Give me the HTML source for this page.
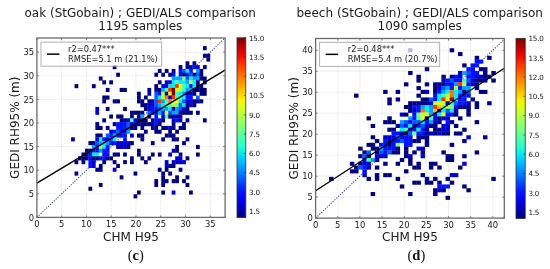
<!DOCTYPE html>
<html><head><meta charset="utf-8"><style>
html,body{margin:0;padding:0;background:#fff;}
svg{display:block;}
text{font-family:'DejaVu Sans', 'Liberation Sans', sans-serif;fill:#1a1a1a;}
</style></head><body>
<svg width="550" height="269" viewBox="0 0 550 269">
<rect width="550" height="269" fill="#fff"/>
<line x1="61.66" y1="38.0" x2="61.66" y2="217.4" stroke="#c2c2c2" stroke-width="0.6" stroke-dasharray="0.8 1.2"/>
<line x1="86.43" y1="38.0" x2="86.43" y2="217.4" stroke="#c2c2c2" stroke-width="0.6" stroke-dasharray="0.8 1.2"/>
<line x1="111.19" y1="38.0" x2="111.19" y2="217.4" stroke="#c2c2c2" stroke-width="0.6" stroke-dasharray="0.8 1.2"/>
<line x1="135.95" y1="38.0" x2="135.95" y2="217.4" stroke="#c2c2c2" stroke-width="0.6" stroke-dasharray="0.8 1.2"/>
<line x1="160.72" y1="38.0" x2="160.72" y2="217.4" stroke="#c2c2c2" stroke-width="0.6" stroke-dasharray="0.8 1.2"/>
<line x1="185.48" y1="38.0" x2="185.48" y2="217.4" stroke="#c2c2c2" stroke-width="0.6" stroke-dasharray="0.8 1.2"/>
<line x1="210.24" y1="38.0" x2="210.24" y2="217.4" stroke="#c2c2c2" stroke-width="0.6" stroke-dasharray="0.8 1.2"/>
<line x1="36.9" y1="193.79" x2="225.1" y2="193.79" stroke="#c2c2c2" stroke-width="0.6" stroke-dasharray="0.8 1.2"/>
<line x1="36.9" y1="170.19" x2="225.1" y2="170.19" stroke="#c2c2c2" stroke-width="0.6" stroke-dasharray="0.8 1.2"/>
<line x1="36.9" y1="146.58" x2="225.1" y2="146.58" stroke="#c2c2c2" stroke-width="0.6" stroke-dasharray="0.8 1.2"/>
<line x1="36.9" y1="122.98" x2="225.1" y2="122.98" stroke="#c2c2c2" stroke-width="0.6" stroke-dasharray="0.8 1.2"/>
<line x1="36.9" y1="99.37" x2="225.1" y2="99.37" stroke="#c2c2c2" stroke-width="0.6" stroke-dasharray="0.8 1.2"/>
<line x1="36.9" y1="75.77" x2="225.1" y2="75.77" stroke="#c2c2c2" stroke-width="0.6" stroke-dasharray="0.8 1.2"/>
<line x1="36.9" y1="52.16" x2="225.1" y2="52.16" stroke="#c2c2c2" stroke-width="0.6" stroke-dasharray="0.8 1.2"/>
<line x1="36.9" y1="217.4" x2="225.10" y2="38.00" stroke="#4848a8" stroke-width="1.1" stroke-dasharray="1.2 1.4"/>
<g>
<rect x="202.93" y="46.10" width="3.77" height="4.10" fill="#000080"/>
<rect x="202.93" y="53.70" width="3.77" height="4.10" fill="#000080"/>
<rect x="206.40" y="53.70" width="3.77" height="4.10" fill="#000080"/>
<rect x="206.40" y="57.50" width="3.77" height="4.10" fill="#000080"/>
<rect x="185.58" y="61.30" width="3.77" height="4.10" fill="#000080"/>
<rect x="192.52" y="61.30" width="3.77" height="4.10" fill="#000080"/>
<rect x="112.71" y="65.10" width="3.77" height="4.10" fill="#000080"/>
<rect x="178.64" y="65.10" width="3.77" height="4.10" fill="#000080"/>
<rect x="185.58" y="65.10" width="3.77" height="4.10" fill="#000080"/>
<rect x="189.05" y="65.10" width="3.77" height="4.10" fill="#0000d2"/>
<rect x="192.52" y="65.10" width="3.77" height="4.10" fill="#0012ff"/>
<rect x="195.99" y="65.10" width="3.77" height="4.10" fill="#0000d2"/>
<rect x="202.93" y="65.10" width="3.77" height="4.10" fill="#000080"/>
<rect x="157.82" y="68.90" width="3.77" height="4.10" fill="#000080"/>
<rect x="164.76" y="68.90" width="3.77" height="4.10" fill="#000080"/>
<rect x="171.70" y="68.90" width="3.77" height="4.10" fill="#000080"/>
<rect x="178.64" y="68.90" width="3.77" height="4.10" fill="#0012ff"/>
<rect x="182.11" y="68.90" width="3.77" height="4.10" fill="#005bff"/>
<rect x="185.58" y="68.90" width="3.77" height="4.10" fill="#06edf1"/>
<rect x="189.05" y="68.90" width="3.77" height="4.10" fill="#0012ff"/>
<rect x="195.99" y="68.90" width="3.77" height="4.10" fill="#00a4ff"/>
<rect x="199.46" y="68.90" width="3.77" height="4.10" fill="#000080"/>
<rect x="116.18" y="72.70" width="3.77" height="4.10" fill="#000080"/>
<rect x="154.35" y="72.70" width="3.77" height="4.10" fill="#000080"/>
<rect x="161.29" y="72.70" width="3.77" height="4.10" fill="#000080"/>
<rect x="168.23" y="72.70" width="3.77" height="4.10" fill="#000080"/>
<rect x="171.70" y="72.70" width="3.77" height="4.10" fill="#0012ff"/>
<rect x="178.64" y="72.70" width="3.77" height="4.10" fill="#0012ff"/>
<rect x="182.11" y="72.70" width="3.77" height="4.10" fill="#000080"/>
<rect x="185.58" y="72.70" width="3.77" height="4.10" fill="#0012ff"/>
<rect x="189.05" y="72.70" width="3.77" height="4.10" fill="#005bff"/>
<rect x="192.52" y="72.70" width="3.77" height="4.10" fill="#000080"/>
<rect x="195.99" y="72.70" width="3.77" height="4.10" fill="#005bff"/>
<rect x="199.46" y="72.70" width="3.77" height="4.10" fill="#000080"/>
<rect x="98.83" y="76.50" width="3.77" height="4.10" fill="#000080"/>
<rect x="171.70" y="76.50" width="3.77" height="4.10" fill="#00a4ff"/>
<rect x="175.17" y="76.50" width="3.77" height="4.10" fill="#00a4ff"/>
<rect x="178.64" y="76.50" width="3.77" height="4.10" fill="#00a4ff"/>
<rect x="182.11" y="76.50" width="3.77" height="4.10" fill="#7bff7b"/>
<rect x="185.58" y="76.50" width="3.77" height="4.10" fill="#005bff"/>
<rect x="189.05" y="76.50" width="3.77" height="4.10" fill="#06edf1"/>
<rect x="192.52" y="76.50" width="3.77" height="4.10" fill="#00a4ff"/>
<rect x="195.99" y="76.50" width="3.77" height="4.10" fill="#00a4ff"/>
<rect x="199.46" y="76.50" width="3.77" height="4.10" fill="#000080"/>
<rect x="202.93" y="76.50" width="3.77" height="4.10" fill="#000080"/>
<rect x="102.30" y="80.30" width="3.77" height="4.10" fill="#000080"/>
<rect x="109.24" y="80.30" width="3.77" height="4.10" fill="#000080"/>
<rect x="157.82" y="80.30" width="3.77" height="4.10" fill="#000080"/>
<rect x="164.76" y="80.30" width="3.77" height="4.10" fill="#0000d2"/>
<rect x="168.23" y="80.30" width="3.77" height="4.10" fill="#0000d2"/>
<rect x="171.70" y="80.30" width="3.77" height="4.10" fill="#06edf1"/>
<rect x="175.17" y="80.30" width="3.77" height="4.10" fill="#41ffb6"/>
<rect x="178.64" y="80.30" width="3.77" height="4.10" fill="#06edf1"/>
<rect x="182.11" y="80.30" width="3.77" height="4.10" fill="#06edf1"/>
<rect x="185.58" y="80.30" width="3.77" height="4.10" fill="#00a4ff"/>
<rect x="189.05" y="80.30" width="3.77" height="4.10" fill="#b6ff41"/>
<rect x="192.52" y="80.30" width="3.77" height="4.10" fill="#06edf1"/>
<rect x="195.99" y="80.30" width="3.77" height="4.10" fill="#000080"/>
<rect x="202.93" y="80.30" width="3.77" height="4.10" fill="#000080"/>
<rect x="74.54" y="84.10" width="3.77" height="4.10" fill="#000080"/>
<rect x="91.89" y="84.10" width="3.77" height="4.10" fill="#000080"/>
<rect x="154.35" y="84.10" width="3.77" height="4.10" fill="#000080"/>
<rect x="161.29" y="84.10" width="3.77" height="4.10" fill="#0000d2"/>
<rect x="164.76" y="84.10" width="3.77" height="4.10" fill="#0000d2"/>
<rect x="168.23" y="84.10" width="3.77" height="4.10" fill="#06edf1"/>
<rect x="171.70" y="84.10" width="3.77" height="4.10" fill="#06edf1"/>
<rect x="175.17" y="84.10" width="3.77" height="4.10" fill="#ff3200"/>
<rect x="178.64" y="84.10" width="3.77" height="4.10" fill="#f1fc06"/>
<rect x="182.11" y="84.10" width="3.77" height="4.10" fill="#41ffb6"/>
<rect x="185.58" y="84.10" width="3.77" height="4.10" fill="#06edf1"/>
<rect x="189.05" y="84.10" width="3.77" height="4.10" fill="#0012ff"/>
<rect x="192.52" y="84.10" width="3.77" height="4.10" fill="#06edf1"/>
<rect x="195.99" y="84.10" width="3.77" height="4.10" fill="#000080"/>
<rect x="199.46" y="84.10" width="3.77" height="4.10" fill="#000080"/>
<rect x="105.77" y="87.90" width="3.77" height="4.10" fill="#000080"/>
<rect x="119.65" y="87.90" width="3.77" height="4.10" fill="#000080"/>
<rect x="123.12" y="87.90" width="3.77" height="4.10" fill="#000080"/>
<rect x="147.41" y="87.90" width="3.77" height="4.10" fill="#000080"/>
<rect x="154.35" y="87.90" width="3.77" height="4.10" fill="#000080"/>
<rect x="157.82" y="87.90" width="3.77" height="4.10" fill="#000080"/>
<rect x="161.29" y="87.90" width="3.77" height="4.10" fill="#00a4ff"/>
<rect x="164.76" y="87.90" width="3.77" height="4.10" fill="#41ffb6"/>
<rect x="168.23" y="87.90" width="3.77" height="4.10" fill="#ff3200"/>
<rect x="171.70" y="87.90" width="3.77" height="4.10" fill="#800000"/>
<rect x="175.17" y="87.90" width="3.77" height="4.10" fill="#f1fc06"/>
<rect x="178.64" y="87.90" width="3.77" height="4.10" fill="#b6ff41"/>
<rect x="182.11" y="87.90" width="3.77" height="4.10" fill="#41ffb6"/>
<rect x="185.58" y="87.90" width="3.77" height="4.10" fill="#00a4ff"/>
<rect x="189.05" y="87.90" width="3.77" height="4.10" fill="#00a4ff"/>
<rect x="192.52" y="87.90" width="3.77" height="4.10" fill="#000080"/>
<rect x="195.99" y="87.90" width="3.77" height="4.10" fill="#000080"/>
<rect x="199.46" y="87.90" width="3.77" height="4.10" fill="#000080"/>
<rect x="202.93" y="87.90" width="3.77" height="4.10" fill="#000080"/>
<rect x="137.00" y="91.70" width="3.77" height="4.10" fill="#000080"/>
<rect x="147.41" y="91.70" width="3.77" height="4.10" fill="#0000d2"/>
<rect x="154.35" y="91.70" width="3.77" height="4.10" fill="#005bff"/>
<rect x="157.82" y="91.70" width="3.77" height="4.10" fill="#0012ff"/>
<rect x="161.29" y="91.70" width="3.77" height="4.10" fill="#b6ff41"/>
<rect x="164.76" y="91.70" width="3.77" height="4.10" fill="#0000d2"/>
<rect x="168.23" y="91.70" width="3.77" height="4.10" fill="#f1fc06"/>
<rect x="171.70" y="91.70" width="3.77" height="4.10" fill="#800000"/>
<rect x="175.17" y="91.70" width="3.77" height="4.10" fill="#41ffb6"/>
<rect x="178.64" y="91.70" width="3.77" height="4.10" fill="#06edf1"/>
<rect x="182.11" y="91.70" width="3.77" height="4.10" fill="#00a4ff"/>
<rect x="185.58" y="91.70" width="3.77" height="4.10" fill="#0000d2"/>
<rect x="189.05" y="91.70" width="3.77" height="4.10" fill="#0000d2"/>
<rect x="192.52" y="91.70" width="3.77" height="4.10" fill="#000080"/>
<rect x="199.46" y="91.70" width="3.77" height="4.10" fill="#000080"/>
<rect x="202.93" y="91.70" width="3.77" height="4.10" fill="#000080"/>
<rect x="102.30" y="95.50" width="3.77" height="4.10" fill="#000080"/>
<rect x="105.77" y="95.50" width="3.77" height="4.10" fill="#000080"/>
<rect x="137.00" y="95.50" width="3.77" height="4.10" fill="#000080"/>
<rect x="143.94" y="95.50" width="3.77" height="4.10" fill="#000080"/>
<rect x="154.35" y="95.50" width="3.77" height="4.10" fill="#005bff"/>
<rect x="157.82" y="95.50" width="3.77" height="4.10" fill="#06edf1"/>
<rect x="161.29" y="95.50" width="3.77" height="4.10" fill="#b6ff41"/>
<rect x="164.76" y="95.50" width="3.77" height="4.10" fill="#ff7500"/>
<rect x="168.23" y="95.50" width="3.77" height="4.10" fill="#0000d2"/>
<rect x="171.70" y="95.50" width="3.77" height="4.10" fill="#ff3200"/>
<rect x="175.17" y="95.50" width="3.77" height="4.10" fill="#41ffb6"/>
<rect x="178.64" y="95.50" width="3.77" height="4.10" fill="#41ffb6"/>
<rect x="182.11" y="95.50" width="3.77" height="4.10" fill="#06edf1"/>
<rect x="185.58" y="95.50" width="3.77" height="4.10" fill="#0012ff"/>
<rect x="189.05" y="95.50" width="3.77" height="4.10" fill="#0012ff"/>
<rect x="195.99" y="95.50" width="3.77" height="4.10" fill="#005bff"/>
<rect x="102.30" y="99.30" width="3.77" height="4.10" fill="#000080"/>
<rect x="112.71" y="99.30" width="3.77" height="4.10" fill="#000080"/>
<rect x="116.18" y="99.30" width="3.77" height="4.10" fill="#000080"/>
<rect x="137.00" y="99.30" width="3.77" height="4.10" fill="#000080"/>
<rect x="140.47" y="99.30" width="3.77" height="4.10" fill="#000080"/>
<rect x="147.41" y="99.30" width="3.77" height="4.10" fill="#000080"/>
<rect x="150.88" y="99.30" width="3.77" height="4.10" fill="#0000d2"/>
<rect x="154.35" y="99.30" width="3.77" height="4.10" fill="#005bff"/>
<rect x="157.82" y="99.30" width="3.77" height="4.10" fill="#ff3200"/>
<rect x="161.29" y="99.30" width="3.77" height="4.10" fill="#00a4ff"/>
<rect x="164.76" y="99.30" width="3.77" height="4.10" fill="#41ffb6"/>
<rect x="168.23" y="99.30" width="3.77" height="4.10" fill="#ff7500"/>
<rect x="171.70" y="99.30" width="3.77" height="4.10" fill="#b6ff41"/>
<rect x="175.17" y="99.30" width="3.77" height="4.10" fill="#f1fc06"/>
<rect x="178.64" y="99.30" width="3.77" height="4.10" fill="#06edf1"/>
<rect x="182.11" y="99.30" width="3.77" height="4.10" fill="#005bff"/>
<rect x="185.58" y="99.30" width="3.77" height="4.10" fill="#0000d2"/>
<rect x="189.05" y="99.30" width="3.77" height="4.10" fill="#0000d2"/>
<rect x="192.52" y="99.30" width="3.77" height="4.10" fill="#000080"/>
<rect x="195.99" y="99.30" width="3.77" height="4.10" fill="#000080"/>
<rect x="199.46" y="99.30" width="3.77" height="4.10" fill="#000080"/>
<rect x="140.47" y="103.10" width="3.77" height="4.10" fill="#000080"/>
<rect x="143.94" y="103.10" width="3.77" height="4.10" fill="#000080"/>
<rect x="147.41" y="103.10" width="3.77" height="4.10" fill="#0000d2"/>
<rect x="150.88" y="103.10" width="3.77" height="4.10" fill="#0000d2"/>
<rect x="154.35" y="103.10" width="3.77" height="4.10" fill="#005bff"/>
<rect x="157.82" y="103.10" width="3.77" height="4.10" fill="#00a4ff"/>
<rect x="161.29" y="103.10" width="3.77" height="4.10" fill="#06edf1"/>
<rect x="164.76" y="103.10" width="3.77" height="4.10" fill="#41ffb6"/>
<rect x="168.23" y="103.10" width="3.77" height="4.10" fill="#41ffb6"/>
<rect x="171.70" y="103.10" width="3.77" height="4.10" fill="#b6ff41"/>
<rect x="175.17" y="103.10" width="3.77" height="4.10" fill="#7bff7b"/>
<rect x="178.64" y="103.10" width="3.77" height="4.10" fill="#005bff"/>
<rect x="182.11" y="103.10" width="3.77" height="4.10" fill="#06edf1"/>
<rect x="185.58" y="103.10" width="3.77" height="4.10" fill="#000080"/>
<rect x="189.05" y="103.10" width="3.77" height="4.10" fill="#0000d2"/>
<rect x="192.52" y="103.10" width="3.77" height="4.10" fill="#000080"/>
<rect x="95.36" y="106.90" width="3.77" height="4.10" fill="#0000d2"/>
<rect x="105.77" y="106.90" width="3.77" height="4.10" fill="#000080"/>
<rect x="123.12" y="106.90" width="3.77" height="4.10" fill="#000080"/>
<rect x="143.94" y="106.90" width="3.77" height="4.10" fill="#000080"/>
<rect x="147.41" y="106.90" width="3.77" height="4.10" fill="#0000d2"/>
<rect x="150.88" y="106.90" width="3.77" height="4.10" fill="#0012ff"/>
<rect x="154.35" y="106.90" width="3.77" height="4.10" fill="#0012ff"/>
<rect x="157.82" y="106.90" width="3.77" height="4.10" fill="#005bff"/>
<rect x="161.29" y="106.90" width="3.77" height="4.10" fill="#00a4ff"/>
<rect x="164.76" y="106.90" width="3.77" height="4.10" fill="#00a4ff"/>
<rect x="168.23" y="106.90" width="3.77" height="4.10" fill="#06edf1"/>
<rect x="171.70" y="106.90" width="3.77" height="4.10" fill="#0000d2"/>
<rect x="175.17" y="106.90" width="3.77" height="4.10" fill="#00a4ff"/>
<rect x="178.64" y="106.90" width="3.77" height="4.10" fill="#005bff"/>
<rect x="182.11" y="106.90" width="3.77" height="4.10" fill="#0000d2"/>
<rect x="185.58" y="106.90" width="3.77" height="4.10" fill="#000080"/>
<rect x="95.36" y="110.70" width="3.77" height="4.10" fill="#0000d2"/>
<rect x="130.06" y="110.70" width="3.77" height="4.10" fill="#000080"/>
<rect x="133.53" y="110.70" width="3.77" height="4.10" fill="#000080"/>
<rect x="137.00" y="110.70" width="3.77" height="4.10" fill="#000080"/>
<rect x="140.47" y="110.70" width="3.77" height="4.10" fill="#000080"/>
<rect x="147.41" y="110.70" width="3.77" height="4.10" fill="#005bff"/>
<rect x="150.88" y="110.70" width="3.77" height="4.10" fill="#0012ff"/>
<rect x="154.35" y="110.70" width="3.77" height="4.10" fill="#0012ff"/>
<rect x="157.82" y="110.70" width="3.77" height="4.10" fill="#00a4ff"/>
<rect x="161.29" y="110.70" width="3.77" height="4.10" fill="#0012ff"/>
<rect x="164.76" y="110.70" width="3.77" height="4.10" fill="#f1fc06"/>
<rect x="168.23" y="110.70" width="3.77" height="4.10" fill="#005bff"/>
<rect x="171.70" y="110.70" width="3.77" height="4.10" fill="#00a4ff"/>
<rect x="175.17" y="110.70" width="3.77" height="4.10" fill="#00a4ff"/>
<rect x="178.64" y="110.70" width="3.77" height="4.10" fill="#000080"/>
<rect x="182.11" y="110.70" width="3.77" height="4.10" fill="#000080"/>
<rect x="185.58" y="110.70" width="3.77" height="4.10" fill="#000080"/>
<rect x="189.05" y="110.70" width="3.77" height="4.10" fill="#000080"/>
<rect x="195.99" y="110.70" width="3.77" height="4.10" fill="#000080"/>
<rect x="109.24" y="114.50" width="3.77" height="4.10" fill="#000080"/>
<rect x="116.18" y="114.50" width="3.77" height="4.10" fill="#000080"/>
<rect x="119.65" y="114.50" width="3.77" height="4.10" fill="#000080"/>
<rect x="130.06" y="114.50" width="3.77" height="4.10" fill="#000080"/>
<rect x="137.00" y="114.50" width="3.77" height="4.10" fill="#000080"/>
<rect x="140.47" y="114.50" width="3.77" height="4.10" fill="#00a4ff"/>
<rect x="147.41" y="114.50" width="3.77" height="4.10" fill="#000080"/>
<rect x="154.35" y="114.50" width="3.77" height="4.10" fill="#0012ff"/>
<rect x="161.29" y="114.50" width="3.77" height="4.10" fill="#0000d2"/>
<rect x="164.76" y="114.50" width="3.77" height="4.10" fill="#41ffb6"/>
<rect x="168.23" y="114.50" width="3.77" height="4.10" fill="#000080"/>
<rect x="171.70" y="114.50" width="3.77" height="4.10" fill="#0000d2"/>
<rect x="175.17" y="114.50" width="3.77" height="4.10" fill="#000080"/>
<rect x="178.64" y="114.50" width="3.77" height="4.10" fill="#0000d2"/>
<rect x="102.30" y="118.30" width="3.77" height="4.10" fill="#000080"/>
<rect x="119.65" y="118.30" width="3.77" height="4.10" fill="#000080"/>
<rect x="123.12" y="118.30" width="3.77" height="4.10" fill="#000080"/>
<rect x="126.59" y="118.30" width="3.77" height="4.10" fill="#0000d2"/>
<rect x="130.06" y="118.30" width="3.77" height="4.10" fill="#41ffb6"/>
<rect x="133.53" y="118.30" width="3.77" height="4.10" fill="#0000d2"/>
<rect x="137.00" y="118.30" width="3.77" height="4.10" fill="#000080"/>
<rect x="140.47" y="118.30" width="3.77" height="4.10" fill="#000080"/>
<rect x="143.94" y="118.30" width="3.77" height="4.10" fill="#000080"/>
<rect x="150.88" y="118.30" width="3.77" height="4.10" fill="#000080"/>
<rect x="154.35" y="118.30" width="3.77" height="4.10" fill="#0012ff"/>
<rect x="157.82" y="118.30" width="3.77" height="4.10" fill="#0012ff"/>
<rect x="161.29" y="118.30" width="3.77" height="4.10" fill="#000080"/>
<rect x="171.70" y="118.30" width="3.77" height="4.10" fill="#0000d2"/>
<rect x="175.17" y="118.30" width="3.77" height="4.10" fill="#0012ff"/>
<rect x="178.64" y="118.30" width="3.77" height="4.10" fill="#0000d2"/>
<rect x="185.58" y="118.30" width="3.77" height="4.10" fill="#000080"/>
<rect x="202.93" y="118.30" width="3.77" height="4.10" fill="#000080"/>
<rect x="95.36" y="122.10" width="3.77" height="4.10" fill="#000080"/>
<rect x="112.71" y="122.10" width="3.77" height="4.10" fill="#000080"/>
<rect x="116.18" y="122.10" width="3.77" height="4.10" fill="#0012ff"/>
<rect x="119.65" y="122.10" width="3.77" height="4.10" fill="#0012ff"/>
<rect x="123.12" y="122.10" width="3.77" height="4.10" fill="#0012ff"/>
<rect x="126.59" y="122.10" width="3.77" height="4.10" fill="#005bff"/>
<rect x="130.06" y="122.10" width="3.77" height="4.10" fill="#0000d2"/>
<rect x="133.53" y="122.10" width="3.77" height="4.10" fill="#0000d2"/>
<rect x="137.00" y="122.10" width="3.77" height="4.10" fill="#000080"/>
<rect x="140.47" y="122.10" width="3.77" height="4.10" fill="#000080"/>
<rect x="143.94" y="122.10" width="3.77" height="4.10" fill="#000080"/>
<rect x="147.41" y="122.10" width="3.77" height="4.10" fill="#000080"/>
<rect x="150.88" y="122.10" width="3.77" height="4.10" fill="#000080"/>
<rect x="154.35" y="122.10" width="3.77" height="4.10" fill="#0012ff"/>
<rect x="157.82" y="122.10" width="3.77" height="4.10" fill="#000080"/>
<rect x="171.70" y="122.10" width="3.77" height="4.10" fill="#000080"/>
<rect x="182.11" y="122.10" width="3.77" height="4.10" fill="#000080"/>
<rect x="95.36" y="125.90" width="3.77" height="4.10" fill="#000080"/>
<rect x="98.83" y="125.90" width="3.77" height="4.10" fill="#000080"/>
<rect x="105.77" y="125.90" width="3.77" height="4.10" fill="#000080"/>
<rect x="116.18" y="125.90" width="3.77" height="4.10" fill="#0012ff"/>
<rect x="119.65" y="125.90" width="3.77" height="4.10" fill="#0012ff"/>
<rect x="123.12" y="125.90" width="3.77" height="4.10" fill="#0012ff"/>
<rect x="126.59" y="125.90" width="3.77" height="4.10" fill="#005bff"/>
<rect x="130.06" y="125.90" width="3.77" height="4.10" fill="#000080"/>
<rect x="133.53" y="125.90" width="3.77" height="4.10" fill="#000080"/>
<rect x="140.47" y="125.90" width="3.77" height="4.10" fill="#000080"/>
<rect x="150.88" y="125.90" width="3.77" height="4.10" fill="#0000d2"/>
<rect x="154.35" y="125.90" width="3.77" height="4.10" fill="#000080"/>
<rect x="161.29" y="125.90" width="3.77" height="4.10" fill="#000080"/>
<rect x="164.76" y="125.90" width="3.77" height="4.10" fill="#000080"/>
<rect x="168.23" y="125.90" width="3.77" height="4.10" fill="#0000d2"/>
<rect x="171.70" y="125.90" width="3.77" height="4.10" fill="#000080"/>
<rect x="178.64" y="125.90" width="3.77" height="4.10" fill="#000080"/>
<rect x="182.11" y="125.90" width="3.77" height="4.10" fill="#000080"/>
<rect x="109.24" y="129.70" width="3.77" height="4.10" fill="#0000d2"/>
<rect x="112.71" y="129.70" width="3.77" height="4.10" fill="#0012ff"/>
<rect x="116.18" y="129.70" width="3.77" height="4.10" fill="#005bff"/>
<rect x="119.65" y="129.70" width="3.77" height="4.10" fill="#0012ff"/>
<rect x="123.12" y="129.70" width="3.77" height="4.10" fill="#0012ff"/>
<rect x="126.59" y="129.70" width="3.77" height="4.10" fill="#00a4ff"/>
<rect x="143.94" y="129.70" width="3.77" height="4.10" fill="#000080"/>
<rect x="154.35" y="129.70" width="3.77" height="4.10" fill="#000080"/>
<rect x="157.82" y="129.70" width="3.77" height="4.10" fill="#000080"/>
<rect x="168.23" y="129.70" width="3.77" height="4.10" fill="#000080"/>
<rect x="175.17" y="129.70" width="3.77" height="4.10" fill="#000080"/>
<rect x="95.36" y="133.50" width="3.77" height="4.10" fill="#000080"/>
<rect x="98.83" y="133.50" width="3.77" height="4.10" fill="#000080"/>
<rect x="105.77" y="133.50" width="3.77" height="4.10" fill="#005bff"/>
<rect x="109.24" y="133.50" width="3.77" height="4.10" fill="#0012ff"/>
<rect x="112.71" y="133.50" width="3.77" height="4.10" fill="#00a4ff"/>
<rect x="116.18" y="133.50" width="3.77" height="4.10" fill="#0012ff"/>
<rect x="119.65" y="133.50" width="3.77" height="4.10" fill="#0012ff"/>
<rect x="123.12" y="133.50" width="3.77" height="4.10" fill="#0012ff"/>
<rect x="130.06" y="133.50" width="3.77" height="4.10" fill="#0000d2"/>
<rect x="137.00" y="133.50" width="3.77" height="4.10" fill="#000080"/>
<rect x="140.47" y="133.50" width="3.77" height="4.10" fill="#000080"/>
<rect x="164.76" y="133.50" width="3.77" height="4.10" fill="#000080"/>
<rect x="168.23" y="133.50" width="3.77" height="4.10" fill="#000080"/>
<rect x="171.70" y="133.50" width="3.77" height="4.10" fill="#000080"/>
<rect x="71.07" y="137.30" width="3.77" height="4.10" fill="#000080"/>
<rect x="95.36" y="137.30" width="3.77" height="4.10" fill="#0000d2"/>
<rect x="98.83" y="137.30" width="3.77" height="4.10" fill="#06edf1"/>
<rect x="102.30" y="137.30" width="3.77" height="4.10" fill="#0012ff"/>
<rect x="105.77" y="137.30" width="3.77" height="4.10" fill="#0000d2"/>
<rect x="109.24" y="137.30" width="3.77" height="4.10" fill="#005bff"/>
<rect x="112.71" y="137.30" width="3.77" height="4.10" fill="#06edf1"/>
<rect x="123.12" y="137.30" width="3.77" height="4.10" fill="#0012ff"/>
<rect x="140.47" y="137.30" width="3.77" height="4.10" fill="#000080"/>
<rect x="161.29" y="137.30" width="3.77" height="4.10" fill="#000080"/>
<rect x="171.70" y="137.30" width="3.77" height="4.10" fill="#000080"/>
<rect x="175.17" y="137.30" width="3.77" height="4.10" fill="#000080"/>
<rect x="185.58" y="137.30" width="3.77" height="4.10" fill="#000080"/>
<rect x="88.42" y="141.10" width="3.77" height="4.10" fill="#000080"/>
<rect x="91.89" y="141.10" width="3.77" height="4.10" fill="#000080"/>
<rect x="95.36" y="141.10" width="3.77" height="4.10" fill="#005bff"/>
<rect x="98.83" y="141.10" width="3.77" height="4.10" fill="#00a4ff"/>
<rect x="102.30" y="141.10" width="3.77" height="4.10" fill="#06edf1"/>
<rect x="105.77" y="141.10" width="3.77" height="4.10" fill="#00a4ff"/>
<rect x="109.24" y="141.10" width="3.77" height="4.10" fill="#0012ff"/>
<rect x="112.71" y="141.10" width="3.77" height="4.10" fill="#0012ff"/>
<rect x="116.18" y="141.10" width="3.77" height="4.10" fill="#0000d2"/>
<rect x="119.65" y="141.10" width="3.77" height="4.10" fill="#0000d2"/>
<rect x="123.12" y="141.10" width="3.77" height="4.10" fill="#0000d2"/>
<rect x="126.59" y="141.10" width="3.77" height="4.10" fill="#0000d2"/>
<rect x="130.06" y="141.10" width="3.77" height="4.10" fill="#000080"/>
<rect x="150.88" y="141.10" width="3.77" height="4.10" fill="#000080"/>
<rect x="182.11" y="141.10" width="3.77" height="4.10" fill="#000080"/>
<rect x="91.89" y="144.90" width="3.77" height="4.10" fill="#00a4ff"/>
<rect x="95.36" y="144.90" width="3.77" height="4.10" fill="#0012ff"/>
<rect x="98.83" y="144.90" width="3.77" height="4.10" fill="#b6ff41"/>
<rect x="102.30" y="144.90" width="3.77" height="4.10" fill="#06edf1"/>
<rect x="105.77" y="144.90" width="3.77" height="4.10" fill="#0012ff"/>
<rect x="116.18" y="144.90" width="3.77" height="4.10" fill="#000080"/>
<rect x="119.65" y="144.90" width="3.77" height="4.10" fill="#0000d2"/>
<rect x="123.12" y="144.90" width="3.77" height="4.10" fill="#0000d2"/>
<rect x="126.59" y="144.90" width="3.77" height="4.10" fill="#000080"/>
<rect x="175.17" y="144.90" width="3.77" height="4.10" fill="#000080"/>
<rect x="195.99" y="144.90" width="3.77" height="4.10" fill="#000080"/>
<rect x="84.95" y="148.70" width="3.77" height="4.10" fill="#000080"/>
<rect x="88.42" y="148.70" width="3.77" height="4.10" fill="#000080"/>
<rect x="91.89" y="148.70" width="3.77" height="4.10" fill="#0012ff"/>
<rect x="95.36" y="148.70" width="3.77" height="4.10" fill="#0012ff"/>
<rect x="98.83" y="148.70" width="3.77" height="4.10" fill="#00a4ff"/>
<rect x="102.30" y="148.70" width="3.77" height="4.10" fill="#0012ff"/>
<rect x="105.77" y="148.70" width="3.77" height="4.10" fill="#0012ff"/>
<rect x="137.00" y="148.70" width="3.77" height="4.10" fill="#000080"/>
<rect x="171.70" y="148.70" width="3.77" height="4.10" fill="#0000d2"/>
<rect x="175.17" y="148.70" width="3.77" height="4.10" fill="#000080"/>
<rect x="81.48" y="152.50" width="3.77" height="4.10" fill="#000080"/>
<rect x="84.95" y="152.50" width="3.77" height="4.10" fill="#000080"/>
<rect x="88.42" y="152.50" width="3.77" height="4.10" fill="#0012ff"/>
<rect x="91.89" y="152.50" width="3.77" height="4.10" fill="#06edf1"/>
<rect x="95.36" y="152.50" width="3.77" height="4.10" fill="#06edf1"/>
<rect x="102.30" y="152.50" width="3.77" height="4.10" fill="#0012ff"/>
<rect x="105.77" y="152.50" width="3.77" height="4.10" fill="#0012ff"/>
<rect x="112.71" y="152.50" width="3.77" height="4.10" fill="#000080"/>
<rect x="116.18" y="152.50" width="3.77" height="4.10" fill="#000080"/>
<rect x="123.12" y="152.50" width="3.77" height="4.10" fill="#000080"/>
<rect x="137.00" y="152.50" width="3.77" height="4.10" fill="#000080"/>
<rect x="150.88" y="152.50" width="3.77" height="4.10" fill="#000080"/>
<rect x="157.82" y="152.50" width="3.77" height="4.10" fill="#000080"/>
<rect x="168.23" y="152.50" width="3.77" height="4.10" fill="#0000d2"/>
<rect x="178.64" y="152.50" width="3.77" height="4.10" fill="#000080"/>
<rect x="195.99" y="152.50" width="3.77" height="4.10" fill="#000080"/>
<rect x="78.01" y="156.30" width="3.77" height="4.10" fill="#000080"/>
<rect x="81.48" y="156.30" width="3.77" height="4.10" fill="#000080"/>
<rect x="84.95" y="156.30" width="3.77" height="4.10" fill="#000080"/>
<rect x="88.42" y="156.30" width="3.77" height="4.10" fill="#0012ff"/>
<rect x="91.89" y="156.30" width="3.77" height="4.10" fill="#000080"/>
<rect x="95.36" y="156.30" width="3.77" height="4.10" fill="#000080"/>
<rect x="98.83" y="156.30" width="3.77" height="4.10" fill="#0012ff"/>
<rect x="102.30" y="156.30" width="3.77" height="4.10" fill="#0012ff"/>
<rect x="105.77" y="156.30" width="3.77" height="4.10" fill="#000080"/>
<rect x="109.24" y="156.30" width="3.77" height="4.10" fill="#000080"/>
<rect x="130.06" y="156.30" width="3.77" height="4.10" fill="#000080"/>
<rect x="140.47" y="156.30" width="3.77" height="4.10" fill="#000080"/>
<rect x="147.41" y="156.30" width="3.77" height="4.10" fill="#000080"/>
<rect x="175.17" y="156.30" width="3.77" height="4.10" fill="#0000d2"/>
<rect x="178.64" y="156.30" width="3.77" height="4.10" fill="#0000d2"/>
<rect x="185.58" y="156.30" width="3.77" height="4.10" fill="#000080"/>
<rect x="74.54" y="160.10" width="3.77" height="4.10" fill="#000080"/>
<rect x="81.48" y="160.10" width="3.77" height="4.10" fill="#000080"/>
<rect x="88.42" y="160.10" width="3.77" height="4.10" fill="#0012ff"/>
<rect x="91.89" y="160.10" width="3.77" height="4.10" fill="#0000d2"/>
<rect x="102.30" y="160.10" width="3.77" height="4.10" fill="#000080"/>
<rect x="112.71" y="160.10" width="3.77" height="4.10" fill="#000080"/>
<rect x="123.12" y="160.10" width="3.77" height="4.10" fill="#000080"/>
<rect x="130.06" y="160.10" width="3.77" height="4.10" fill="#000080"/>
<rect x="143.94" y="160.10" width="3.77" height="4.10" fill="#000080"/>
<rect x="164.76" y="160.10" width="3.77" height="4.10" fill="#0000d2"/>
<rect x="171.70" y="160.10" width="3.77" height="4.10" fill="#0000d2"/>
<rect x="175.17" y="160.10" width="3.77" height="4.10" fill="#0000d2"/>
<rect x="178.64" y="160.10" width="3.77" height="4.10" fill="#0000d2"/>
<rect x="182.11" y="160.10" width="3.77" height="4.10" fill="#0000d2"/>
<rect x="88.42" y="163.90" width="3.77" height="4.10" fill="#0012ff"/>
<rect x="91.89" y="163.90" width="3.77" height="4.10" fill="#0000d2"/>
<rect x="98.83" y="163.90" width="3.77" height="4.10" fill="#000080"/>
<rect x="116.18" y="163.90" width="3.77" height="4.10" fill="#000080"/>
<rect x="164.76" y="163.90" width="3.77" height="4.10" fill="#0000d2"/>
<rect x="168.23" y="163.90" width="3.77" height="4.10" fill="#000080"/>
<rect x="171.70" y="163.90" width="3.77" height="4.10" fill="#000080"/>
<rect x="95.36" y="167.70" width="3.77" height="4.10" fill="#000080"/>
<rect x="98.83" y="167.70" width="3.77" height="4.10" fill="#000080"/>
<rect x="112.71" y="167.70" width="3.77" height="4.10" fill="#0000d2"/>
<rect x="157.82" y="167.70" width="3.77" height="4.10" fill="#000080"/>
<rect x="164.76" y="167.70" width="3.77" height="4.10" fill="#000080"/>
<rect x="178.64" y="167.70" width="3.77" height="4.10" fill="#000080"/>
<rect x="74.54" y="171.50" width="3.77" height="4.10" fill="#000080"/>
<rect x="133.53" y="171.50" width="3.77" height="4.10" fill="#000080"/>
<rect x="161.29" y="171.50" width="3.77" height="4.10" fill="#000080"/>
<rect x="168.23" y="171.50" width="3.77" height="4.10" fill="#000080"/>
<rect x="119.65" y="175.30" width="3.77" height="4.10" fill="#000080"/>
<rect x="161.29" y="175.30" width="3.77" height="4.10" fill="#000080"/>
<rect x="175.17" y="175.30" width="3.77" height="4.10" fill="#000080"/>
<rect x="185.58" y="175.30" width="3.77" height="4.10" fill="#000080"/>
<rect x="154.35" y="179.10" width="3.77" height="4.10" fill="#000080"/>
<rect x="161.29" y="179.10" width="3.77" height="4.10" fill="#000080"/>
<rect x="164.76" y="179.10" width="3.77" height="4.10" fill="#000080"/>
<rect x="171.70" y="179.10" width="3.77" height="4.10" fill="#000080"/>
<rect x="175.17" y="179.10" width="3.77" height="4.10" fill="#000080"/>
<rect x="182.11" y="179.10" width="3.77" height="4.10" fill="#000080"/>
<rect x="98.83" y="182.90" width="3.77" height="4.10" fill="#000080"/>
<rect x="154.35" y="182.90" width="3.77" height="4.10" fill="#000080"/>
<rect x="161.29" y="182.90" width="3.77" height="4.10" fill="#000080"/>
<rect x="185.58" y="182.90" width="3.77" height="4.10" fill="#000080"/>
<rect x="88.42" y="186.70" width="3.77" height="4.10" fill="#000080"/>
<rect x="137.00" y="190.50" width="3.77" height="4.10" fill="#000080"/>
<rect x="161.29" y="190.50" width="3.77" height="4.10" fill="#000080"/>
<rect x="171.70" y="190.50" width="3.77" height="4.10" fill="#0000d2"/>
<rect x="189.05" y="190.50" width="3.77" height="4.10" fill="#000080"/>
<rect x="133.53" y="194.30" width="3.77" height="4.10" fill="#000080"/>
</g>
<line x1="36.9" y1="183.1" x2="225.1" y2="70.1" stroke="#000" stroke-width="1.35"/>
<rect x="41.0" y="42.1" width="120.70" height="24.10" fill="#fff" fill-opacity="0.72" stroke="#a8a8a8" stroke-width="0.9"/>
<line x1="47.0" y1="54.15" x2="59.5" y2="54.15" stroke="#000" stroke-width="1.5"/>
<text x="68.00" y="52.10" font-size="8.3">r2=0.47***</text>
<text x="68.00" y="62.10" font-size="8.3">RMSE=5.1 m (21.1%)</text>
<rect x="36.9" y="38.0" width="188.20" height="179.40" fill="none" stroke="#6c6c6c" stroke-width="1.3"/>
<line x1="36.90" y1="217.4" x2="36.90" y2="215.40" stroke="#606060" stroke-width="0.8"/>
<line x1="36.90" y1="38.0" x2="36.90" y2="40.00" stroke="#606060" stroke-width="0.8"/>
<text x="36.90" y="227.00" font-size="8.4" text-anchor="middle">0</text>
<line x1="61.66" y1="217.4" x2="61.66" y2="215.40" stroke="#606060" stroke-width="0.8"/>
<line x1="61.66" y1="38.0" x2="61.66" y2="40.00" stroke="#606060" stroke-width="0.8"/>
<text x="61.66" y="227.00" font-size="8.4" text-anchor="middle">5</text>
<line x1="86.43" y1="217.4" x2="86.43" y2="215.40" stroke="#606060" stroke-width="0.8"/>
<line x1="86.43" y1="38.0" x2="86.43" y2="40.00" stroke="#606060" stroke-width="0.8"/>
<text x="86.43" y="227.00" font-size="8.4" text-anchor="middle">10</text>
<line x1="111.19" y1="217.4" x2="111.19" y2="215.40" stroke="#606060" stroke-width="0.8"/>
<line x1="111.19" y1="38.0" x2="111.19" y2="40.00" stroke="#606060" stroke-width="0.8"/>
<text x="111.19" y="227.00" font-size="8.4" text-anchor="middle">15</text>
<line x1="135.95" y1="217.4" x2="135.95" y2="215.40" stroke="#606060" stroke-width="0.8"/>
<line x1="135.95" y1="38.0" x2="135.95" y2="40.00" stroke="#606060" stroke-width="0.8"/>
<text x="135.95" y="227.00" font-size="8.4" text-anchor="middle">20</text>
<line x1="160.72" y1="217.4" x2="160.72" y2="215.40" stroke="#606060" stroke-width="0.8"/>
<line x1="160.72" y1="38.0" x2="160.72" y2="40.00" stroke="#606060" stroke-width="0.8"/>
<text x="160.72" y="227.00" font-size="8.4" text-anchor="middle">25</text>
<line x1="185.48" y1="217.4" x2="185.48" y2="215.40" stroke="#606060" stroke-width="0.8"/>
<line x1="185.48" y1="38.0" x2="185.48" y2="40.00" stroke="#606060" stroke-width="0.8"/>
<text x="185.48" y="227.00" font-size="8.4" text-anchor="middle">30</text>
<line x1="210.24" y1="217.4" x2="210.24" y2="215.40" stroke="#606060" stroke-width="0.8"/>
<line x1="210.24" y1="38.0" x2="210.24" y2="40.00" stroke="#606060" stroke-width="0.8"/>
<text x="210.24" y="227.00" font-size="8.4" text-anchor="middle">35</text>
<line x1="36.9" y1="217.40" x2="38.9" y2="217.40" stroke="#606060" stroke-width="0.8"/>
<line x1="225.1" y1="217.40" x2="223.1" y2="217.40" stroke="#606060" stroke-width="0.8"/>
<text x="34.10" y="220.60" font-size="8.4" text-anchor="end">0</text>
<line x1="36.9" y1="193.79" x2="38.9" y2="193.79" stroke="#606060" stroke-width="0.8"/>
<line x1="225.1" y1="193.79" x2="223.1" y2="193.79" stroke="#606060" stroke-width="0.8"/>
<text x="34.10" y="196.99" font-size="8.4" text-anchor="end">5</text>
<line x1="36.9" y1="170.19" x2="38.9" y2="170.19" stroke="#606060" stroke-width="0.8"/>
<line x1="225.1" y1="170.19" x2="223.1" y2="170.19" stroke="#606060" stroke-width="0.8"/>
<text x="34.10" y="173.39" font-size="8.4" text-anchor="end">10</text>
<line x1="36.9" y1="146.58" x2="38.9" y2="146.58" stroke="#606060" stroke-width="0.8"/>
<line x1="225.1" y1="146.58" x2="223.1" y2="146.58" stroke="#606060" stroke-width="0.8"/>
<text x="34.10" y="149.78" font-size="8.4" text-anchor="end">15</text>
<line x1="36.9" y1="122.98" x2="38.9" y2="122.98" stroke="#606060" stroke-width="0.8"/>
<line x1="225.1" y1="122.98" x2="223.1" y2="122.98" stroke="#606060" stroke-width="0.8"/>
<text x="34.10" y="126.18" font-size="8.4" text-anchor="end">20</text>
<line x1="36.9" y1="99.37" x2="38.9" y2="99.37" stroke="#606060" stroke-width="0.8"/>
<line x1="225.1" y1="99.37" x2="223.1" y2="99.37" stroke="#606060" stroke-width="0.8"/>
<text x="34.10" y="102.57" font-size="8.4" text-anchor="end">25</text>
<line x1="36.9" y1="75.77" x2="38.9" y2="75.77" stroke="#606060" stroke-width="0.8"/>
<line x1="225.1" y1="75.77" x2="223.1" y2="75.77" stroke="#606060" stroke-width="0.8"/>
<text x="34.10" y="78.97" font-size="8.4" text-anchor="end">30</text>
<line x1="36.9" y1="52.16" x2="38.9" y2="52.16" stroke="#606060" stroke-width="0.8"/>
<line x1="225.1" y1="52.16" x2="223.1" y2="52.16" stroke="#606060" stroke-width="0.8"/>
<text x="34.10" y="55.36" font-size="8.4" text-anchor="end">35</text>
<text x="131.00" y="240.70" font-size="12" text-anchor="middle">CHM H95</text>
<text transform="translate(19.10,127.70) rotate(-90)" font-size="12" text-anchor="middle">GEDI RH95% (m)</text>
<text x="140.25" y="16.5" font-size="12" text-anchor="middle">oak (StGobain) ; GEDI/ALS comparison</text>
<text x="140.25" y="29.5" font-size="12" text-anchor="middle">1195 samples</text>
<defs><linearGradient id="cbc" x1="0" y1="0" x2="0" y2="1"><stop offset="0.000" stop-color="#800000"/><stop offset="0.050" stop-color="#b90000"/><stop offset="0.100" stop-color="#f30900"/><stop offset="0.150" stop-color="#ff3900"/><stop offset="0.200" stop-color="#ff6800"/><stop offset="0.250" stop-color="#ff9700"/><stop offset="0.300" stop-color="#ffc600"/><stop offset="0.350" stop-color="#f7f600"/><stop offset="0.400" stop-color="#ceff29"/><stop offset="0.450" stop-color="#a5ff52"/><stop offset="0.500" stop-color="#7bff7b"/><stop offset="0.550" stop-color="#52ffa5"/><stop offset="0.600" stop-color="#29ffce"/><stop offset="0.650" stop-color="#00e5f7"/><stop offset="0.700" stop-color="#00b3ff"/><stop offset="0.750" stop-color="#0080ff"/><stop offset="0.800" stop-color="#004cff"/><stop offset="0.850" stop-color="#001aff"/><stop offset="0.900" stop-color="#0000f3"/><stop offset="0.950" stop-color="#0000b9"/><stop offset="1.000" stop-color="#000080"/></linearGradient></defs>
<rect x="237.0" y="37.8" width="8.80" height="179.80" fill="url(#cbc)" stroke="#303030" stroke-width="0.8"/>
<line x1="245.8" y1="211.18" x2="243.8" y2="211.18" stroke="#303030" stroke-width="0.6"/>
<text x="249.00" y="213.98" font-size="7.2" letter-spacing="-0.2">1.5</text>
<line x1="245.8" y1="191.91" x2="243.8" y2="191.91" stroke="#303030" stroke-width="0.6"/>
<text x="249.00" y="194.71" font-size="7.2" letter-spacing="-0.2">3.0</text>
<line x1="245.8" y1="172.65" x2="243.8" y2="172.65" stroke="#303030" stroke-width="0.6"/>
<text x="249.00" y="175.45" font-size="7.2" letter-spacing="-0.2">4.5</text>
<line x1="245.8" y1="153.39" x2="243.8" y2="153.39" stroke="#303030" stroke-width="0.6"/>
<text x="249.00" y="156.19" font-size="7.2" letter-spacing="-0.2">6.0</text>
<line x1="245.8" y1="134.12" x2="243.8" y2="134.12" stroke="#303030" stroke-width="0.6"/>
<text x="249.00" y="136.92" font-size="7.2" letter-spacing="-0.2">7.5</text>
<line x1="245.8" y1="114.86" x2="243.8" y2="114.86" stroke="#303030" stroke-width="0.6"/>
<text x="249.00" y="117.66" font-size="7.2" letter-spacing="-0.2">9.0</text>
<line x1="245.8" y1="95.59" x2="243.8" y2="95.59" stroke="#303030" stroke-width="0.6"/>
<text x="249.00" y="98.39" font-size="7.2" letter-spacing="-0.2">10.5</text>
<line x1="245.8" y1="76.33" x2="243.8" y2="76.33" stroke="#303030" stroke-width="0.6"/>
<text x="249.00" y="79.13" font-size="7.2" letter-spacing="-0.2">12.0</text>
<line x1="245.8" y1="57.06" x2="243.8" y2="57.06" stroke="#303030" stroke-width="0.6"/>
<text x="249.00" y="59.86" font-size="7.2" letter-spacing="-0.2">13.5</text>
<line x1="245.8" y1="37.80" x2="243.8" y2="37.80" stroke="#303030" stroke-width="0.6"/>
<text x="249.00" y="40.60" font-size="7.2" letter-spacing="-0.2">15.0</text>
<text x="135.8" y="260.2" text-anchor="middle" style="font-family:'Liberation Serif', serif;font-size:14.5px;fill:#111">(<tspan style="font-weight:bold">c</tspan>)</text>
<line x1="337.75" y1="38.5" x2="337.75" y2="218.1" stroke="#c2c2c2" stroke-width="0.6" stroke-dasharray="0.8 1.2"/>
<line x1="359.90" y1="38.5" x2="359.90" y2="218.1" stroke="#c2c2c2" stroke-width="0.6" stroke-dasharray="0.8 1.2"/>
<line x1="382.04" y1="38.5" x2="382.04" y2="218.1" stroke="#c2c2c2" stroke-width="0.6" stroke-dasharray="0.8 1.2"/>
<line x1="404.19" y1="38.5" x2="404.19" y2="218.1" stroke="#c2c2c2" stroke-width="0.6" stroke-dasharray="0.8 1.2"/>
<line x1="426.34" y1="38.5" x2="426.34" y2="218.1" stroke="#c2c2c2" stroke-width="0.6" stroke-dasharray="0.8 1.2"/>
<line x1="448.49" y1="38.5" x2="448.49" y2="218.1" stroke="#c2c2c2" stroke-width="0.6" stroke-dasharray="0.8 1.2"/>
<line x1="470.64" y1="38.5" x2="470.64" y2="218.1" stroke="#c2c2c2" stroke-width="0.6" stroke-dasharray="0.8 1.2"/>
<line x1="492.78" y1="38.5" x2="492.78" y2="218.1" stroke="#c2c2c2" stroke-width="0.6" stroke-dasharray="0.8 1.2"/>
<line x1="315.6" y1="197.12" x2="504.3" y2="197.12" stroke="#c2c2c2" stroke-width="0.6" stroke-dasharray="0.8 1.2"/>
<line x1="315.6" y1="176.14" x2="504.3" y2="176.14" stroke="#c2c2c2" stroke-width="0.6" stroke-dasharray="0.8 1.2"/>
<line x1="315.6" y1="155.16" x2="504.3" y2="155.16" stroke="#c2c2c2" stroke-width="0.6" stroke-dasharray="0.8 1.2"/>
<line x1="315.6" y1="134.17" x2="504.3" y2="134.17" stroke="#c2c2c2" stroke-width="0.6" stroke-dasharray="0.8 1.2"/>
<line x1="315.6" y1="113.19" x2="504.3" y2="113.19" stroke="#c2c2c2" stroke-width="0.6" stroke-dasharray="0.8 1.2"/>
<line x1="315.6" y1="92.21" x2="504.3" y2="92.21" stroke="#c2c2c2" stroke-width="0.6" stroke-dasharray="0.8 1.2"/>
<line x1="315.6" y1="71.23" x2="504.3" y2="71.23" stroke="#c2c2c2" stroke-width="0.6" stroke-dasharray="0.8 1.2"/>
<line x1="315.6" y1="50.25" x2="504.3" y2="50.25" stroke="#c2c2c2" stroke-width="0.6" stroke-dasharray="0.8 1.2"/>
<line x1="315.6" y1="218.1" x2="504.30" y2="39.34" stroke="#4848a8" stroke-width="1.1" stroke-dasharray="1.2 1.4"/>
<g>
<rect x="408.12" y="48.25" width="4.46" height="4.08" fill="#000080"/>
<rect x="449.72" y="48.25" width="4.46" height="4.08" fill="#000080"/>
<rect x="458.04" y="52.03" width="4.46" height="4.08" fill="#000080"/>
<rect x="474.68" y="55.81" width="4.46" height="4.08" fill="#000080"/>
<rect x="487.16" y="55.81" width="4.46" height="4.08" fill="#000080"/>
<rect x="474.68" y="59.60" width="4.46" height="4.08" fill="#0012ff"/>
<rect x="478.84" y="59.60" width="4.46" height="4.08" fill="#0012ff"/>
<rect x="462.20" y="63.38" width="4.46" height="4.08" fill="#000080"/>
<rect x="470.52" y="63.38" width="4.46" height="4.08" fill="#0012ff"/>
<rect x="474.68" y="63.38" width="4.46" height="4.08" fill="#0012ff"/>
<rect x="424.76" y="67.16" width="4.46" height="4.08" fill="#000080"/>
<rect x="466.36" y="67.16" width="4.46" height="4.08" fill="#0012ff"/>
<rect x="470.52" y="67.16" width="4.46" height="4.08" fill="#0012ff"/>
<rect x="478.84" y="67.16" width="4.46" height="4.08" fill="#000080"/>
<rect x="483.00" y="67.16" width="4.46" height="4.08" fill="#000080"/>
<rect x="408.12" y="70.95" width="4.46" height="4.08" fill="#000080"/>
<rect x="458.04" y="70.95" width="4.46" height="4.08" fill="#0000d2"/>
<rect x="462.20" y="70.95" width="4.46" height="4.08" fill="#00a4ff"/>
<rect x="466.36" y="70.95" width="4.46" height="4.08" fill="#005bff"/>
<rect x="470.52" y="70.95" width="4.46" height="4.08" fill="#0012ff"/>
<rect x="474.68" y="70.95" width="4.46" height="4.08" fill="#0012ff"/>
<rect x="483.00" y="70.95" width="4.46" height="4.08" fill="#000080"/>
<rect x="491.32" y="70.95" width="4.46" height="4.08" fill="#000080"/>
<rect x="416.44" y="74.73" width="4.46" height="4.08" fill="#000080"/>
<rect x="441.40" y="74.73" width="4.46" height="4.08" fill="#000080"/>
<rect x="449.72" y="74.73" width="4.46" height="4.08" fill="#000080"/>
<rect x="453.88" y="74.73" width="4.46" height="4.08" fill="#0012ff"/>
<rect x="458.04" y="74.73" width="4.46" height="4.08" fill="#0000d2"/>
<rect x="466.36" y="74.73" width="4.46" height="4.08" fill="#0012ff"/>
<rect x="470.52" y="74.73" width="4.46" height="4.08" fill="#0012ff"/>
<rect x="474.68" y="74.73" width="4.46" height="4.08" fill="#0000d2"/>
<rect x="478.84" y="74.73" width="4.46" height="4.08" fill="#0000d2"/>
<rect x="483.00" y="74.73" width="4.46" height="4.08" fill="#000080"/>
<rect x="487.16" y="74.73" width="4.46" height="4.08" fill="#000080"/>
<rect x="416.44" y="78.51" width="4.46" height="4.08" fill="#000080"/>
<rect x="441.40" y="78.51" width="4.46" height="4.08" fill="#0000d2"/>
<rect x="445.56" y="78.51" width="4.46" height="4.08" fill="#0012ff"/>
<rect x="449.72" y="78.51" width="4.46" height="4.08" fill="#005bff"/>
<rect x="453.88" y="78.51" width="4.46" height="4.08" fill="#0012ff"/>
<rect x="458.04" y="78.51" width="4.46" height="4.08" fill="#0012ff"/>
<rect x="462.20" y="78.51" width="4.46" height="4.08" fill="#41ffb6"/>
<rect x="466.36" y="78.51" width="4.46" height="4.08" fill="#005bff"/>
<rect x="470.52" y="78.51" width="4.46" height="4.08" fill="#0000d2"/>
<rect x="474.68" y="78.51" width="4.46" height="4.08" fill="#000080"/>
<rect x="478.84" y="78.51" width="4.46" height="4.08" fill="#000080"/>
<rect x="483.00" y="78.51" width="4.46" height="4.08" fill="#0000d2"/>
<rect x="491.32" y="78.51" width="4.46" height="4.08" fill="#000080"/>
<rect x="403.96" y="82.30" width="4.46" height="4.08" fill="#000080"/>
<rect x="424.76" y="82.30" width="4.46" height="4.08" fill="#000080"/>
<rect x="433.08" y="82.30" width="4.46" height="4.08" fill="#000080"/>
<rect x="437.24" y="82.30" width="4.46" height="4.08" fill="#000080"/>
<rect x="441.40" y="82.30" width="4.46" height="4.08" fill="#000080"/>
<rect x="445.56" y="82.30" width="4.46" height="4.08" fill="#0012ff"/>
<rect x="449.72" y="82.30" width="4.46" height="4.08" fill="#0012ff"/>
<rect x="453.88" y="82.30" width="4.46" height="4.08" fill="#00a4ff"/>
<rect x="458.04" y="82.30" width="4.46" height="4.08" fill="#ff3200"/>
<rect x="462.20" y="82.30" width="4.46" height="4.08" fill="#b6ff41"/>
<rect x="466.36" y="82.30" width="4.46" height="4.08" fill="#0012ff"/>
<rect x="470.52" y="82.30" width="4.46" height="4.08" fill="#0000d2"/>
<rect x="474.68" y="82.30" width="4.46" height="4.08" fill="#000080"/>
<rect x="416.44" y="86.08" width="4.46" height="4.08" fill="#000080"/>
<rect x="433.08" y="86.08" width="4.46" height="4.08" fill="#000080"/>
<rect x="437.24" y="86.08" width="4.46" height="4.08" fill="#0000d2"/>
<rect x="441.40" y="86.08" width="4.46" height="4.08" fill="#005bff"/>
<rect x="445.56" y="86.08" width="4.46" height="4.08" fill="#00a4ff"/>
<rect x="449.72" y="86.08" width="4.46" height="4.08" fill="#0012ff"/>
<rect x="453.88" y="86.08" width="4.46" height="4.08" fill="#b6ff41"/>
<rect x="458.04" y="86.08" width="4.46" height="4.08" fill="#0012ff"/>
<rect x="462.20" y="86.08" width="4.46" height="4.08" fill="#00a4ff"/>
<rect x="466.36" y="86.08" width="4.46" height="4.08" fill="#00a4ff"/>
<rect x="474.68" y="86.08" width="4.46" height="4.08" fill="#000080"/>
<rect x="383.16" y="89.86" width="4.46" height="4.08" fill="#000080"/>
<rect x="395.64" y="89.86" width="4.46" height="4.08" fill="#000080"/>
<rect x="420.60" y="89.86" width="4.46" height="4.08" fill="#000080"/>
<rect x="424.76" y="89.86" width="4.46" height="4.08" fill="#0000d2"/>
<rect x="433.08" y="89.86" width="4.46" height="4.08" fill="#000080"/>
<rect x="437.24" y="89.86" width="4.46" height="4.08" fill="#0012ff"/>
<rect x="441.40" y="89.86" width="4.46" height="4.08" fill="#00a4ff"/>
<rect x="445.56" y="89.86" width="4.46" height="4.08" fill="#06edf1"/>
<rect x="449.72" y="89.86" width="4.46" height="4.08" fill="#ff7500"/>
<rect x="453.88" y="89.86" width="4.46" height="4.08" fill="#06edf1"/>
<rect x="458.04" y="89.86" width="4.46" height="4.08" fill="#00a4ff"/>
<rect x="462.20" y="89.86" width="4.46" height="4.08" fill="#000080"/>
<rect x="466.36" y="89.86" width="4.46" height="4.08" fill="#005bff"/>
<rect x="478.84" y="89.86" width="4.46" height="4.08" fill="#000080"/>
<rect x="483.00" y="89.86" width="4.46" height="4.08" fill="#000080"/>
<rect x="354.04" y="93.64" width="4.46" height="4.08" fill="#000080"/>
<rect x="416.44" y="93.64" width="4.46" height="4.08" fill="#000080"/>
<rect x="433.08" y="93.64" width="4.46" height="4.08" fill="#0012ff"/>
<rect x="437.24" y="93.64" width="4.46" height="4.08" fill="#06edf1"/>
<rect x="441.40" y="93.64" width="4.46" height="4.08" fill="#41ffb6"/>
<rect x="445.56" y="93.64" width="4.46" height="4.08" fill="#b6ff41"/>
<rect x="449.72" y="93.64" width="4.46" height="4.08" fill="#ff7500"/>
<rect x="453.88" y="93.64" width="4.46" height="4.08" fill="#06edf1"/>
<rect x="458.04" y="93.64" width="4.46" height="4.08" fill="#0012ff"/>
<rect x="462.20" y="93.64" width="4.46" height="4.08" fill="#0012ff"/>
<rect x="466.36" y="93.64" width="4.46" height="4.08" fill="#0012ff"/>
<rect x="387.32" y="97.43" width="4.46" height="4.08" fill="#000080"/>
<rect x="395.64" y="97.43" width="4.46" height="4.08" fill="#000080"/>
<rect x="420.60" y="97.43" width="4.46" height="4.08" fill="#000080"/>
<rect x="424.76" y="97.43" width="4.46" height="4.08" fill="#000080"/>
<rect x="428.92" y="97.43" width="4.46" height="4.08" fill="#005bff"/>
<rect x="433.08" y="97.43" width="4.46" height="4.08" fill="#0012ff"/>
<rect x="437.24" y="97.43" width="4.46" height="4.08" fill="#06edf1"/>
<rect x="441.40" y="97.43" width="4.46" height="4.08" fill="#ff3200"/>
<rect x="445.56" y="97.43" width="4.46" height="4.08" fill="#f1fc06"/>
<rect x="449.72" y="97.43" width="4.46" height="4.08" fill="#800000"/>
<rect x="453.88" y="97.43" width="4.46" height="4.08" fill="#06edf1"/>
<rect x="458.04" y="97.43" width="4.46" height="4.08" fill="#0012ff"/>
<rect x="462.20" y="97.43" width="4.46" height="4.08" fill="#0012ff"/>
<rect x="470.52" y="97.43" width="4.46" height="4.08" fill="#000080"/>
<rect x="387.32" y="101.21" width="4.46" height="4.08" fill="#000080"/>
<rect x="408.12" y="101.21" width="4.46" height="4.08" fill="#000080"/>
<rect x="412.28" y="101.21" width="4.46" height="4.08" fill="#000080"/>
<rect x="416.44" y="101.21" width="4.46" height="4.08" fill="#000080"/>
<rect x="420.60" y="101.21" width="4.46" height="4.08" fill="#000080"/>
<rect x="424.76" y="101.21" width="4.46" height="4.08" fill="#000080"/>
<rect x="428.92" y="101.21" width="4.46" height="4.08" fill="#0000d2"/>
<rect x="433.08" y="101.21" width="4.46" height="4.08" fill="#b6ff41"/>
<rect x="437.24" y="101.21" width="4.46" height="4.08" fill="#f1fc06"/>
<rect x="441.40" y="101.21" width="4.46" height="4.08" fill="#b6ff41"/>
<rect x="445.56" y="101.21" width="4.46" height="4.08" fill="#0000d2"/>
<rect x="449.72" y="101.21" width="4.46" height="4.08" fill="#41ffb6"/>
<rect x="453.88" y="101.21" width="4.46" height="4.08" fill="#005bff"/>
<rect x="458.04" y="101.21" width="4.46" height="4.08" fill="#0012ff"/>
<rect x="462.20" y="101.21" width="4.46" height="4.08" fill="#0012ff"/>
<rect x="466.36" y="101.21" width="4.46" height="4.08" fill="#0000d2"/>
<rect x="474.68" y="101.21" width="4.46" height="4.08" fill="#000080"/>
<rect x="487.16" y="101.21" width="4.46" height="4.08" fill="#000080"/>
<rect x="403.96" y="104.99" width="4.46" height="4.08" fill="#000080"/>
<rect x="408.12" y="104.99" width="4.46" height="4.08" fill="#000080"/>
<rect x="412.28" y="104.99" width="4.46" height="4.08" fill="#0012ff"/>
<rect x="416.44" y="104.99" width="4.46" height="4.08" fill="#0012ff"/>
<rect x="420.60" y="104.99" width="4.46" height="4.08" fill="#00a4ff"/>
<rect x="424.76" y="104.99" width="4.46" height="4.08" fill="#06edf1"/>
<rect x="428.92" y="104.99" width="4.46" height="4.08" fill="#00a4ff"/>
<rect x="433.08" y="104.99" width="4.46" height="4.08" fill="#ff3200"/>
<rect x="437.24" y="104.99" width="4.46" height="4.08" fill="#ffb900"/>
<rect x="441.40" y="104.99" width="4.46" height="4.08" fill="#7bff7b"/>
<rect x="445.56" y="104.99" width="4.46" height="4.08" fill="#b6ff41"/>
<rect x="449.72" y="104.99" width="4.46" height="4.08" fill="#7bff7b"/>
<rect x="453.88" y="104.99" width="4.46" height="4.08" fill="#0012ff"/>
<rect x="458.04" y="104.99" width="4.46" height="4.08" fill="#000080"/>
<rect x="462.20" y="104.99" width="4.46" height="4.08" fill="#000080"/>
<rect x="466.36" y="104.99" width="4.46" height="4.08" fill="#000080"/>
<rect x="474.68" y="104.99" width="4.46" height="4.08" fill="#000080"/>
<rect x="408.12" y="108.78" width="4.46" height="4.08" fill="#000080"/>
<rect x="412.28" y="108.78" width="4.46" height="4.08" fill="#0000d2"/>
<rect x="416.44" y="108.78" width="4.46" height="4.08" fill="#0012ff"/>
<rect x="420.60" y="108.78" width="4.46" height="4.08" fill="#ff7500"/>
<rect x="424.76" y="108.78" width="4.46" height="4.08" fill="#06edf1"/>
<rect x="428.92" y="108.78" width="4.46" height="4.08" fill="#00a4ff"/>
<rect x="433.08" y="108.78" width="4.46" height="4.08" fill="#ffb900"/>
<rect x="437.24" y="108.78" width="4.46" height="4.08" fill="#0000d2"/>
<rect x="441.40" y="108.78" width="4.46" height="4.08" fill="#06edf1"/>
<rect x="445.56" y="108.78" width="4.46" height="4.08" fill="#005bff"/>
<rect x="449.72" y="108.78" width="4.46" height="4.08" fill="#06edf1"/>
<rect x="453.88" y="108.78" width="4.46" height="4.08" fill="#000080"/>
<rect x="466.36" y="108.78" width="4.46" height="4.08" fill="#000080"/>
<rect x="399.80" y="112.56" width="4.46" height="4.08" fill="#0000d2"/>
<rect x="403.96" y="112.56" width="4.46" height="4.08" fill="#000080"/>
<rect x="412.28" y="112.56" width="4.46" height="4.08" fill="#0012ff"/>
<rect x="416.44" y="112.56" width="4.46" height="4.08" fill="#7bff7b"/>
<rect x="420.60" y="112.56" width="4.46" height="4.08" fill="#b6ff41"/>
<rect x="424.76" y="112.56" width="4.46" height="4.08" fill="#f1fc06"/>
<rect x="428.92" y="112.56" width="4.46" height="4.08" fill="#00a4ff"/>
<rect x="433.08" y="112.56" width="4.46" height="4.08" fill="#0012ff"/>
<rect x="437.24" y="112.56" width="4.46" height="4.08" fill="#06edf1"/>
<rect x="441.40" y="112.56" width="4.46" height="4.08" fill="#f1fc06"/>
<rect x="445.56" y="112.56" width="4.46" height="4.08" fill="#0012ff"/>
<rect x="449.72" y="112.56" width="4.46" height="4.08" fill="#0012ff"/>
<rect x="453.88" y="112.56" width="4.46" height="4.08" fill="#000080"/>
<rect x="466.36" y="112.56" width="4.46" height="4.08" fill="#000080"/>
<rect x="366.52" y="116.34" width="4.46" height="4.08" fill="#000080"/>
<rect x="387.32" y="116.34" width="4.46" height="4.08" fill="#000080"/>
<rect x="408.12" y="116.34" width="4.46" height="4.08" fill="#00a4ff"/>
<rect x="412.28" y="116.34" width="4.46" height="4.08" fill="#0012ff"/>
<rect x="416.44" y="116.34" width="4.46" height="4.08" fill="#41ffb6"/>
<rect x="420.60" y="116.34" width="4.46" height="4.08" fill="#f1fc06"/>
<rect x="424.76" y="116.34" width="4.46" height="4.08" fill="#000080"/>
<rect x="428.92" y="116.34" width="4.46" height="4.08" fill="#41ffb6"/>
<rect x="433.08" y="116.34" width="4.46" height="4.08" fill="#0000d2"/>
<rect x="437.24" y="116.34" width="4.46" height="4.08" fill="#000080"/>
<rect x="441.40" y="116.34" width="4.46" height="4.08" fill="#0000d2"/>
<rect x="445.56" y="116.34" width="4.46" height="4.08" fill="#0000d2"/>
<rect x="458.04" y="116.34" width="4.46" height="4.08" fill="#000080"/>
<rect x="383.16" y="120.13" width="4.46" height="4.08" fill="#000080"/>
<rect x="387.32" y="120.13" width="4.46" height="4.08" fill="#000080"/>
<rect x="391.48" y="120.13" width="4.46" height="4.08" fill="#000080"/>
<rect x="399.80" y="120.13" width="4.46" height="4.08" fill="#00a4ff"/>
<rect x="403.96" y="120.13" width="4.46" height="4.08" fill="#005bff"/>
<rect x="408.12" y="120.13" width="4.46" height="4.08" fill="#0012ff"/>
<rect x="412.28" y="120.13" width="4.46" height="4.08" fill="#005bff"/>
<rect x="416.44" y="120.13" width="4.46" height="4.08" fill="#005bff"/>
<rect x="420.60" y="120.13" width="4.46" height="4.08" fill="#06edf1"/>
<rect x="424.76" y="120.13" width="4.46" height="4.08" fill="#0012ff"/>
<rect x="428.92" y="120.13" width="4.46" height="4.08" fill="#00a4ff"/>
<rect x="433.08" y="120.13" width="4.46" height="4.08" fill="#0000d2"/>
<rect x="437.24" y="120.13" width="4.46" height="4.08" fill="#000080"/>
<rect x="445.56" y="120.13" width="4.46" height="4.08" fill="#0012ff"/>
<rect x="449.72" y="120.13" width="4.46" height="4.08" fill="#000080"/>
<rect x="474.68" y="120.13" width="4.46" height="4.08" fill="#000080"/>
<rect x="370.68" y="123.91" width="4.46" height="4.08" fill="#000080"/>
<rect x="395.64" y="123.91" width="4.46" height="4.08" fill="#000080"/>
<rect x="399.80" y="123.91" width="4.46" height="4.08" fill="#005bff"/>
<rect x="403.96" y="123.91" width="4.46" height="4.08" fill="#0012ff"/>
<rect x="408.12" y="123.91" width="4.46" height="4.08" fill="#06edf1"/>
<rect x="412.28" y="123.91" width="4.46" height="4.08" fill="#0000d2"/>
<rect x="416.44" y="123.91" width="4.46" height="4.08" fill="#0012ff"/>
<rect x="420.60" y="123.91" width="4.46" height="4.08" fill="#005bff"/>
<rect x="424.76" y="123.91" width="4.46" height="4.08" fill="#0000d2"/>
<rect x="428.92" y="123.91" width="4.46" height="4.08" fill="#000080"/>
<rect x="433.08" y="123.91" width="4.46" height="4.08" fill="#000080"/>
<rect x="441.40" y="123.91" width="4.46" height="4.08" fill="#0000d2"/>
<rect x="445.56" y="123.91" width="4.46" height="4.08" fill="#0000d2"/>
<rect x="453.88" y="123.91" width="4.46" height="4.08" fill="#000080"/>
<rect x="387.32" y="127.69" width="4.46" height="4.08" fill="#000080"/>
<rect x="391.48" y="127.69" width="4.46" height="4.08" fill="#000080"/>
<rect x="399.80" y="127.69" width="4.46" height="4.08" fill="#06edf1"/>
<rect x="403.96" y="127.69" width="4.46" height="4.08" fill="#41ffb6"/>
<rect x="408.12" y="127.69" width="4.46" height="4.08" fill="#0000d2"/>
<rect x="412.28" y="127.69" width="4.46" height="4.08" fill="#0012ff"/>
<rect x="416.44" y="127.69" width="4.46" height="4.08" fill="#06edf1"/>
<rect x="420.60" y="127.69" width="4.46" height="4.08" fill="#0012ff"/>
<rect x="424.76" y="127.69" width="4.46" height="4.08" fill="#000080"/>
<rect x="433.08" y="127.69" width="4.46" height="4.08" fill="#000080"/>
<rect x="437.24" y="127.69" width="4.46" height="4.08" fill="#000080"/>
<rect x="441.40" y="127.69" width="4.46" height="4.08" fill="#0000d2"/>
<rect x="445.56" y="127.69" width="4.46" height="4.08" fill="#0000d2"/>
<rect x="462.20" y="127.69" width="4.46" height="4.08" fill="#000080"/>
<rect x="391.48" y="131.47" width="4.46" height="4.08" fill="#0012ff"/>
<rect x="395.64" y="131.47" width="4.46" height="4.08" fill="#0012ff"/>
<rect x="399.80" y="131.47" width="4.46" height="4.08" fill="#0000d2"/>
<rect x="403.96" y="131.47" width="4.46" height="4.08" fill="#000080"/>
<rect x="408.12" y="131.47" width="4.46" height="4.08" fill="#005bff"/>
<rect x="412.28" y="131.47" width="4.46" height="4.08" fill="#7bff7b"/>
<rect x="416.44" y="131.47" width="4.46" height="4.08" fill="#0012ff"/>
<rect x="420.60" y="131.47" width="4.46" height="4.08" fill="#0012ff"/>
<rect x="424.76" y="131.47" width="4.46" height="4.08" fill="#000080"/>
<rect x="428.92" y="131.47" width="4.46" height="4.08" fill="#0000d2"/>
<rect x="433.08" y="131.47" width="4.46" height="4.08" fill="#000080"/>
<rect x="437.24" y="131.47" width="4.46" height="4.08" fill="#0000d2"/>
<rect x="441.40" y="131.47" width="4.46" height="4.08" fill="#000080"/>
<rect x="445.56" y="131.47" width="4.46" height="4.08" fill="#000080"/>
<rect x="453.88" y="131.47" width="4.46" height="4.08" fill="#000080"/>
<rect x="458.04" y="131.47" width="4.46" height="4.08" fill="#000080"/>
<rect x="370.68" y="135.26" width="4.46" height="4.08" fill="#000080"/>
<rect x="383.16" y="135.26" width="4.46" height="4.08" fill="#0000d2"/>
<rect x="387.32" y="135.26" width="4.46" height="4.08" fill="#0000d2"/>
<rect x="391.48" y="135.26" width="4.46" height="4.08" fill="#0000d2"/>
<rect x="395.64" y="135.26" width="4.46" height="4.08" fill="#005bff"/>
<rect x="399.80" y="135.26" width="4.46" height="4.08" fill="#0012ff"/>
<rect x="403.96" y="135.26" width="4.46" height="4.08" fill="#0012ff"/>
<rect x="408.12" y="135.26" width="4.46" height="4.08" fill="#0012ff"/>
<rect x="416.44" y="135.26" width="4.46" height="4.08" fill="#000080"/>
<rect x="420.60" y="135.26" width="4.46" height="4.08" fill="#000080"/>
<rect x="424.76" y="135.26" width="4.46" height="4.08" fill="#000080"/>
<rect x="466.36" y="135.26" width="4.46" height="4.08" fill="#0000d2"/>
<rect x="483.00" y="135.26" width="4.46" height="4.08" fill="#000080"/>
<rect x="374.84" y="139.04" width="4.46" height="4.08" fill="#000080"/>
<rect x="383.16" y="139.04" width="4.46" height="4.08" fill="#0012ff"/>
<rect x="387.32" y="139.04" width="4.46" height="4.08" fill="#000080"/>
<rect x="391.48" y="139.04" width="4.46" height="4.08" fill="#0012ff"/>
<rect x="395.64" y="139.04" width="4.46" height="4.08" fill="#0012ff"/>
<rect x="399.80" y="139.04" width="4.46" height="4.08" fill="#005bff"/>
<rect x="403.96" y="139.04" width="4.46" height="4.08" fill="#0012ff"/>
<rect x="408.12" y="139.04" width="4.46" height="4.08" fill="#0012ff"/>
<rect x="412.28" y="139.04" width="4.46" height="4.08" fill="#000080"/>
<rect x="416.44" y="139.04" width="4.46" height="4.08" fill="#000080"/>
<rect x="424.76" y="139.04" width="4.46" height="4.08" fill="#000080"/>
<rect x="462.20" y="139.04" width="4.46" height="4.08" fill="#000080"/>
<rect x="366.52" y="142.82" width="4.46" height="4.08" fill="#000080"/>
<rect x="370.68" y="142.82" width="4.46" height="4.08" fill="#000080"/>
<rect x="379.00" y="142.82" width="4.46" height="4.08" fill="#0012ff"/>
<rect x="383.16" y="142.82" width="4.46" height="4.08" fill="#0012ff"/>
<rect x="387.32" y="142.82" width="4.46" height="4.08" fill="#000080"/>
<rect x="391.48" y="142.82" width="4.46" height="4.08" fill="#0012ff"/>
<rect x="395.64" y="142.82" width="4.46" height="4.08" fill="#7bff7b"/>
<rect x="403.96" y="142.82" width="4.46" height="4.08" fill="#0012ff"/>
<rect x="408.12" y="142.82" width="4.46" height="4.08" fill="#0012ff"/>
<rect x="424.76" y="142.82" width="4.46" height="4.08" fill="#000080"/>
<rect x="449.72" y="142.82" width="4.46" height="4.08" fill="#000080"/>
<rect x="358.20" y="146.61" width="4.46" height="4.08" fill="#000080"/>
<rect x="370.68" y="146.61" width="4.46" height="4.08" fill="#000080"/>
<rect x="374.84" y="146.61" width="4.46" height="4.08" fill="#000080"/>
<rect x="379.00" y="146.61" width="4.46" height="4.08" fill="#00a4ff"/>
<rect x="383.16" y="146.61" width="4.46" height="4.08" fill="#0012ff"/>
<rect x="387.32" y="146.61" width="4.46" height="4.08" fill="#0012ff"/>
<rect x="391.48" y="146.61" width="4.46" height="4.08" fill="#0012ff"/>
<rect x="395.64" y="146.61" width="4.46" height="4.08" fill="#000080"/>
<rect x="403.96" y="146.61" width="4.46" height="4.08" fill="#000080"/>
<rect x="416.44" y="146.61" width="4.46" height="4.08" fill="#0000d2"/>
<rect x="420.60" y="146.61" width="4.46" height="4.08" fill="#0000d2"/>
<rect x="362.36" y="150.39" width="4.46" height="4.08" fill="#000080"/>
<rect x="366.52" y="150.39" width="4.46" height="4.08" fill="#005bff"/>
<rect x="374.84" y="150.39" width="4.46" height="4.08" fill="#000080"/>
<rect x="379.00" y="150.39" width="4.46" height="4.08" fill="#005bff"/>
<rect x="383.16" y="150.39" width="4.46" height="4.08" fill="#0012ff"/>
<rect x="387.32" y="150.39" width="4.46" height="4.08" fill="#005bff"/>
<rect x="391.48" y="150.39" width="4.46" height="4.08" fill="#000080"/>
<rect x="395.64" y="150.39" width="4.46" height="4.08" fill="#000080"/>
<rect x="403.96" y="150.39" width="4.46" height="4.08" fill="#000080"/>
<rect x="412.28" y="150.39" width="4.46" height="4.08" fill="#000080"/>
<rect x="420.60" y="150.39" width="4.46" height="4.08" fill="#000080"/>
<rect x="441.40" y="150.39" width="4.46" height="4.08" fill="#000080"/>
<rect x="474.68" y="150.39" width="4.46" height="4.08" fill="#000080"/>
<rect x="358.20" y="154.17" width="4.46" height="4.08" fill="#000080"/>
<rect x="362.36" y="154.17" width="4.46" height="4.08" fill="#005bff"/>
<rect x="366.52" y="154.17" width="4.46" height="4.08" fill="#000080"/>
<rect x="374.84" y="154.17" width="4.46" height="4.08" fill="#0000d2"/>
<rect x="379.00" y="154.17" width="4.46" height="4.08" fill="#0000d2"/>
<rect x="383.16" y="154.17" width="4.46" height="4.08" fill="#0000d2"/>
<rect x="403.96" y="154.17" width="4.46" height="4.08" fill="#000080"/>
<rect x="408.12" y="154.17" width="4.46" height="4.08" fill="#0000d2"/>
<rect x="420.60" y="154.17" width="4.46" height="4.08" fill="#0000d2"/>
<rect x="445.56" y="154.17" width="4.46" height="4.08" fill="#000080"/>
<rect x="449.72" y="154.17" width="4.46" height="4.08" fill="#000080"/>
<rect x="462.20" y="154.17" width="4.46" height="4.08" fill="#000080"/>
<rect x="362.36" y="157.96" width="4.46" height="4.08" fill="#0012ff"/>
<rect x="366.52" y="157.96" width="4.46" height="4.08" fill="#41ffb6"/>
<rect x="370.68" y="157.96" width="4.46" height="4.08" fill="#00a4ff"/>
<rect x="374.84" y="157.96" width="4.46" height="4.08" fill="#000080"/>
<rect x="399.80" y="157.96" width="4.46" height="4.08" fill="#000080"/>
<rect x="408.12" y="157.96" width="4.46" height="4.08" fill="#000080"/>
<rect x="445.56" y="157.96" width="4.46" height="4.08" fill="#000080"/>
<rect x="449.72" y="157.96" width="4.46" height="4.08" fill="#000080"/>
<rect x="349.88" y="161.74" width="4.46" height="4.08" fill="#000080"/>
<rect x="358.20" y="161.74" width="4.46" height="4.08" fill="#000080"/>
<rect x="362.36" y="161.74" width="4.46" height="4.08" fill="#0000d2"/>
<rect x="366.52" y="161.74" width="4.46" height="4.08" fill="#0000d2"/>
<rect x="383.16" y="161.74" width="4.46" height="4.08" fill="#000080"/>
<rect x="395.64" y="161.74" width="4.46" height="4.08" fill="#000080"/>
<rect x="408.12" y="161.74" width="4.46" height="4.08" fill="#000080"/>
<rect x="416.44" y="161.74" width="4.46" height="4.08" fill="#000080"/>
<rect x="428.92" y="161.74" width="4.46" height="4.08" fill="#000080"/>
<rect x="433.08" y="161.74" width="4.46" height="4.08" fill="#000080"/>
<rect x="462.20" y="161.74" width="4.46" height="4.08" fill="#0000d2"/>
<rect x="354.04" y="165.52" width="4.46" height="4.08" fill="#000080"/>
<rect x="358.20" y="165.52" width="4.46" height="4.08" fill="#005bff"/>
<rect x="362.36" y="165.52" width="4.46" height="4.08" fill="#0012ff"/>
<rect x="366.52" y="165.52" width="4.46" height="4.08" fill="#0000d2"/>
<rect x="374.84" y="165.52" width="4.46" height="4.08" fill="#000080"/>
<rect x="412.28" y="165.52" width="4.46" height="4.08" fill="#000080"/>
<rect x="416.44" y="165.52" width="4.46" height="4.08" fill="#000080"/>
<rect x="428.92" y="165.52" width="4.46" height="4.08" fill="#000080"/>
<rect x="437.24" y="165.52" width="4.46" height="4.08" fill="#000080"/>
<rect x="458.04" y="165.52" width="4.46" height="4.08" fill="#000080"/>
<rect x="349.88" y="169.31" width="4.46" height="4.08" fill="#000080"/>
<rect x="354.04" y="169.31" width="4.46" height="4.08" fill="#000080"/>
<rect x="362.36" y="169.31" width="4.46" height="4.08" fill="#0012ff"/>
<rect x="403.96" y="169.31" width="4.46" height="4.08" fill="#000080"/>
<rect x="362.36" y="173.09" width="4.46" height="4.08" fill="#0000d2"/>
<rect x="374.84" y="173.09" width="4.46" height="4.08" fill="#000080"/>
<rect x="383.16" y="173.09" width="4.46" height="4.08" fill="#000080"/>
<rect x="387.32" y="173.09" width="4.46" height="4.08" fill="#000080"/>
<rect x="420.60" y="173.09" width="4.46" height="4.08" fill="#000080"/>
<rect x="449.72" y="173.09" width="4.46" height="4.08" fill="#0000d2"/>
<rect x="453.88" y="173.09" width="4.46" height="4.08" fill="#0000d2"/>
<rect x="329.08" y="176.87" width="4.46" height="4.08" fill="#000080"/>
<rect x="366.52" y="176.87" width="4.46" height="4.08" fill="#000080"/>
<rect x="374.84" y="176.87" width="4.46" height="4.08" fill="#000080"/>
<rect x="395.64" y="176.87" width="4.46" height="4.08" fill="#000080"/>
<rect x="424.76" y="176.87" width="4.46" height="4.08" fill="#000080"/>
<rect x="433.08" y="176.87" width="4.46" height="4.08" fill="#000080"/>
<rect x="445.56" y="176.87" width="4.46" height="4.08" fill="#000080"/>
<rect x="491.32" y="176.87" width="4.46" height="4.08" fill="#000080"/>
<rect x="412.28" y="180.65" width="4.46" height="4.08" fill="#000080"/>
<rect x="416.44" y="180.65" width="4.46" height="4.08" fill="#000080"/>
<rect x="424.76" y="180.65" width="4.46" height="4.08" fill="#000080"/>
<rect x="428.92" y="180.65" width="4.46" height="4.08" fill="#000080"/>
<rect x="437.24" y="180.65" width="4.46" height="4.08" fill="#000080"/>
<rect x="449.72" y="180.65" width="4.46" height="4.08" fill="#000080"/>
<rect x="399.80" y="184.44" width="4.46" height="4.08" fill="#000080"/>
<rect x="437.24" y="184.44" width="4.46" height="4.08" fill="#0012ff"/>
<rect x="441.40" y="184.44" width="4.46" height="4.08" fill="#0012ff"/>
<rect x="445.56" y="184.44" width="4.46" height="4.08" fill="#0012ff"/>
<rect x="462.20" y="184.44" width="4.46" height="4.08" fill="#000080"/>
<rect x="433.08" y="188.22" width="4.46" height="4.08" fill="#000080"/>
<rect x="437.24" y="188.22" width="4.46" height="4.08" fill="#0000d2"/>
<rect x="441.40" y="188.22" width="4.46" height="4.08" fill="#000080"/>
<rect x="466.36" y="188.22" width="4.46" height="4.08" fill="#000080"/>
<rect x="370.68" y="192.00" width="4.46" height="4.08" fill="#000080"/>
<rect x="408.12" y="192.00" width="4.46" height="4.08" fill="#000080"/>
<rect x="433.08" y="192.00" width="4.46" height="4.08" fill="#000080"/>
<rect x="445.56" y="195.79" width="4.46" height="4.08" fill="#000080"/>
</g>
<line x1="315.6" y1="190.8" x2="504.3" y2="68.2" stroke="#000" stroke-width="1.35"/>
<rect x="319.6" y="42.3" width="120.10" height="24.10" fill="#fff" fill-opacity="0.72" stroke="#a8a8a8" stroke-width="0.9"/>
<line x1="325.6" y1="54.35" x2="338.1" y2="54.35" stroke="#000" stroke-width="1.5"/>
<text x="347.80" y="52.30" font-size="8.3">r2=0.48***</text>
<text x="347.80" y="62.30" font-size="8.3">RMSE=5.4 m (20.7%)</text>
<rect x="315.6" y="38.5" width="188.70" height="179.60" fill="none" stroke="#6c6c6c" stroke-width="1.3"/>
<line x1="315.60" y1="218.1" x2="315.60" y2="216.10" stroke="#606060" stroke-width="0.8"/>
<line x1="315.60" y1="38.5" x2="315.60" y2="40.50" stroke="#606060" stroke-width="0.8"/>
<text x="315.60" y="227.70" font-size="8.4" text-anchor="middle">0</text>
<line x1="337.75" y1="218.1" x2="337.75" y2="216.10" stroke="#606060" stroke-width="0.8"/>
<line x1="337.75" y1="38.5" x2="337.75" y2="40.50" stroke="#606060" stroke-width="0.8"/>
<text x="337.75" y="227.70" font-size="8.4" text-anchor="middle">5</text>
<line x1="359.90" y1="218.1" x2="359.90" y2="216.10" stroke="#606060" stroke-width="0.8"/>
<line x1="359.90" y1="38.5" x2="359.90" y2="40.50" stroke="#606060" stroke-width="0.8"/>
<text x="359.90" y="227.70" font-size="8.4" text-anchor="middle">10</text>
<line x1="382.04" y1="218.1" x2="382.04" y2="216.10" stroke="#606060" stroke-width="0.8"/>
<line x1="382.04" y1="38.5" x2="382.04" y2="40.50" stroke="#606060" stroke-width="0.8"/>
<text x="382.04" y="227.70" font-size="8.4" text-anchor="middle">15</text>
<line x1="404.19" y1="218.1" x2="404.19" y2="216.10" stroke="#606060" stroke-width="0.8"/>
<line x1="404.19" y1="38.5" x2="404.19" y2="40.50" stroke="#606060" stroke-width="0.8"/>
<text x="404.19" y="227.70" font-size="8.4" text-anchor="middle">20</text>
<line x1="426.34" y1="218.1" x2="426.34" y2="216.10" stroke="#606060" stroke-width="0.8"/>
<line x1="426.34" y1="38.5" x2="426.34" y2="40.50" stroke="#606060" stroke-width="0.8"/>
<text x="426.34" y="227.70" font-size="8.4" text-anchor="middle">25</text>
<line x1="448.49" y1="218.1" x2="448.49" y2="216.10" stroke="#606060" stroke-width="0.8"/>
<line x1="448.49" y1="38.5" x2="448.49" y2="40.50" stroke="#606060" stroke-width="0.8"/>
<text x="448.49" y="227.70" font-size="8.4" text-anchor="middle">30</text>
<line x1="470.64" y1="218.1" x2="470.64" y2="216.10" stroke="#606060" stroke-width="0.8"/>
<line x1="470.64" y1="38.5" x2="470.64" y2="40.50" stroke="#606060" stroke-width="0.8"/>
<text x="470.64" y="227.70" font-size="8.4" text-anchor="middle">35</text>
<line x1="492.78" y1="218.1" x2="492.78" y2="216.10" stroke="#606060" stroke-width="0.8"/>
<line x1="492.78" y1="38.5" x2="492.78" y2="40.50" stroke="#606060" stroke-width="0.8"/>
<text x="492.78" y="227.70" font-size="8.4" text-anchor="middle">40</text>
<line x1="315.6" y1="218.10" x2="317.6" y2="218.10" stroke="#606060" stroke-width="0.8"/>
<line x1="504.3" y1="218.10" x2="502.3" y2="218.10" stroke="#606060" stroke-width="0.8"/>
<text x="312.80" y="221.30" font-size="8.4" text-anchor="end">0</text>
<line x1="315.6" y1="197.12" x2="317.6" y2="197.12" stroke="#606060" stroke-width="0.8"/>
<line x1="504.3" y1="197.12" x2="502.3" y2="197.12" stroke="#606060" stroke-width="0.8"/>
<text x="312.80" y="200.32" font-size="8.4" text-anchor="end">5</text>
<line x1="315.6" y1="176.14" x2="317.6" y2="176.14" stroke="#606060" stroke-width="0.8"/>
<line x1="504.3" y1="176.14" x2="502.3" y2="176.14" stroke="#606060" stroke-width="0.8"/>
<text x="312.80" y="179.34" font-size="8.4" text-anchor="end">10</text>
<line x1="315.6" y1="155.16" x2="317.6" y2="155.16" stroke="#606060" stroke-width="0.8"/>
<line x1="504.3" y1="155.16" x2="502.3" y2="155.16" stroke="#606060" stroke-width="0.8"/>
<text x="312.80" y="158.36" font-size="8.4" text-anchor="end">15</text>
<line x1="315.6" y1="134.17" x2="317.6" y2="134.17" stroke="#606060" stroke-width="0.8"/>
<line x1="504.3" y1="134.17" x2="502.3" y2="134.17" stroke="#606060" stroke-width="0.8"/>
<text x="312.80" y="137.37" font-size="8.4" text-anchor="end">20</text>
<line x1="315.6" y1="113.19" x2="317.6" y2="113.19" stroke="#606060" stroke-width="0.8"/>
<line x1="504.3" y1="113.19" x2="502.3" y2="113.19" stroke="#606060" stroke-width="0.8"/>
<text x="312.80" y="116.39" font-size="8.4" text-anchor="end">25</text>
<line x1="315.6" y1="92.21" x2="317.6" y2="92.21" stroke="#606060" stroke-width="0.8"/>
<line x1="504.3" y1="92.21" x2="502.3" y2="92.21" stroke="#606060" stroke-width="0.8"/>
<text x="312.80" y="95.41" font-size="8.4" text-anchor="end">30</text>
<line x1="315.6" y1="71.23" x2="317.6" y2="71.23" stroke="#606060" stroke-width="0.8"/>
<line x1="504.3" y1="71.23" x2="502.3" y2="71.23" stroke="#606060" stroke-width="0.8"/>
<text x="312.80" y="74.43" font-size="8.4" text-anchor="end">35</text>
<line x1="315.6" y1="50.25" x2="317.6" y2="50.25" stroke="#606060" stroke-width="0.8"/>
<line x1="504.3" y1="50.25" x2="502.3" y2="50.25" stroke="#606060" stroke-width="0.8"/>
<text x="312.80" y="53.45" font-size="8.4" text-anchor="end">40</text>
<text x="409.95" y="241.40" font-size="12" text-anchor="middle">CHM H95</text>
<text transform="translate(297.80,128.30) rotate(-90)" font-size="12" text-anchor="middle">GEDI RH95% (m)</text>
<text x="419.7" y="16.5" font-size="12" text-anchor="middle">beech (StGobain) ; GEDI/ALS comparison</text>
<text x="419.7" y="29.5" font-size="12" text-anchor="middle">1090 samples</text>
<defs><linearGradient id="cbd" x1="0" y1="0" x2="0" y2="1"><stop offset="0.000" stop-color="#800000"/><stop offset="0.050" stop-color="#b90000"/><stop offset="0.100" stop-color="#f30900"/><stop offset="0.150" stop-color="#ff3900"/><stop offset="0.200" stop-color="#ff6800"/><stop offset="0.250" stop-color="#ff9700"/><stop offset="0.300" stop-color="#ffc600"/><stop offset="0.350" stop-color="#f7f600"/><stop offset="0.400" stop-color="#ceff29"/><stop offset="0.450" stop-color="#a5ff52"/><stop offset="0.500" stop-color="#7bff7b"/><stop offset="0.550" stop-color="#52ffa5"/><stop offset="0.600" stop-color="#29ffce"/><stop offset="0.650" stop-color="#00e5f7"/><stop offset="0.700" stop-color="#00b3ff"/><stop offset="0.750" stop-color="#0080ff"/><stop offset="0.800" stop-color="#004cff"/><stop offset="0.850" stop-color="#001aff"/><stop offset="0.900" stop-color="#0000f3"/><stop offset="0.950" stop-color="#0000b9"/><stop offset="1.000" stop-color="#000080"/></linearGradient></defs>
<rect x="516.0" y="38.5" width="9.20" height="180.00" fill="url(#cbd)" stroke="#303030" stroke-width="0.8"/>
<line x1="525.2" y1="212.07" x2="523.2" y2="212.07" stroke="#303030" stroke-width="0.6"/>
<text x="528.40" y="214.87" font-size="7.2" letter-spacing="-0.2">1.5</text>
<line x1="525.2" y1="192.79" x2="523.2" y2="192.79" stroke="#303030" stroke-width="0.6"/>
<text x="528.40" y="195.59" font-size="7.2" letter-spacing="-0.2">3.0</text>
<line x1="525.2" y1="173.50" x2="523.2" y2="173.50" stroke="#303030" stroke-width="0.6"/>
<text x="528.40" y="176.30" font-size="7.2" letter-spacing="-0.2">4.5</text>
<line x1="525.2" y1="154.21" x2="523.2" y2="154.21" stroke="#303030" stroke-width="0.6"/>
<text x="528.40" y="157.01" font-size="7.2" letter-spacing="-0.2">6.0</text>
<line x1="525.2" y1="134.93" x2="523.2" y2="134.93" stroke="#303030" stroke-width="0.6"/>
<text x="528.40" y="137.73" font-size="7.2" letter-spacing="-0.2">7.5</text>
<line x1="525.2" y1="115.64" x2="523.2" y2="115.64" stroke="#303030" stroke-width="0.6"/>
<text x="528.40" y="118.44" font-size="7.2" letter-spacing="-0.2">9.0</text>
<line x1="525.2" y1="96.36" x2="523.2" y2="96.36" stroke="#303030" stroke-width="0.6"/>
<text x="528.40" y="99.16" font-size="7.2" letter-spacing="-0.2">10.5</text>
<line x1="525.2" y1="77.07" x2="523.2" y2="77.07" stroke="#303030" stroke-width="0.6"/>
<text x="528.40" y="79.87" font-size="7.2" letter-spacing="-0.2">12.0</text>
<line x1="525.2" y1="57.79" x2="523.2" y2="57.79" stroke="#303030" stroke-width="0.6"/>
<text x="528.40" y="60.59" font-size="7.2" letter-spacing="-0.2">13.5</text>
<line x1="525.2" y1="38.50" x2="523.2" y2="38.50" stroke="#303030" stroke-width="0.6"/>
<text x="528.40" y="41.30" font-size="7.2" letter-spacing="-0.2">15.0</text>
<text x="416.4" y="260.2" text-anchor="middle" style="font-family:'Liberation Serif', serif;font-size:14.5px;fill:#111">(<tspan style="font-weight:bold">d</tspan>)</text>
</svg>
</body></html>
